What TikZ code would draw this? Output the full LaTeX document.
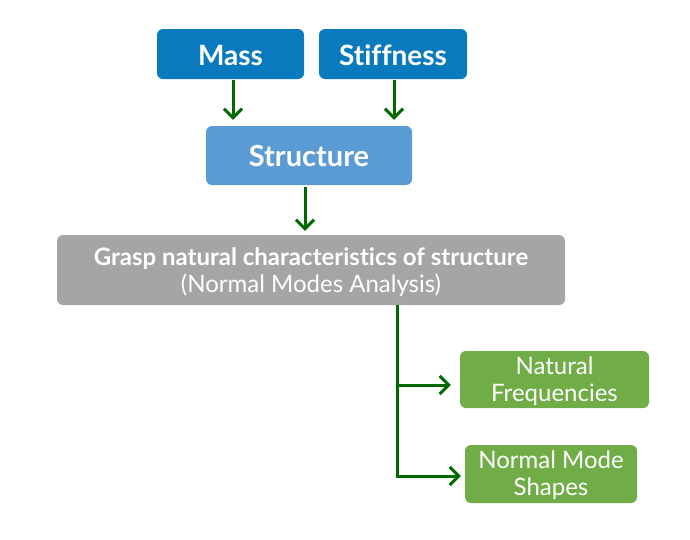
\documentclass[tikz,border=0pt]{standalone}
\usepackage{fontspec}
\setmainfont{Lato}[Ligatures=NoCommon]
\usetikzlibrary{arrows.meta}
\definecolor{topblue}{HTML}{0A7ABF}
\definecolor{midblue}{HTML}{5B9BD5}
\definecolor{boxgray}{HTML}{A5A5A5}
\definecolor{boxgreen}{HTML}{70AD47}
\definecolor{arrgreen}{HTML}{006A00}
\tikzset{
  box/.style={rounded corners=6pt, text=white, align=center, inner sep=0pt},
  arr/.style={draw=arrgreen, line width=3pt, -{Straight Barb[length=9pt,width=18pt,line width=3pt]}},
  ln/.style={draw=arrgreen, line width=3pt}
}
\begin{document}
\begin{tikzpicture}[x=1pt,y=-1pt]
\useasboundingbox (0,0) rectangle (690,539);
\node[box, fill=topblue, minimum width=147pt, minimum height=50pt, text height=22pt, text depth=0pt, font=\fontsize{28}{32}\selectfont\bfseries] (mass) at (230.5,54) {Mass};
\node[box, fill=topblue, minimum width=148pt, minimum height=50pt, text height=22pt, text depth=0pt, font=\fontsize{28}{32}\selectfont\bfseries] (stiff) at (393,54) {Stiffness};
\node[box, fill=midblue, minimum width=206pt, minimum height=59pt, text height=22pt, text depth=0pt, font=\fontsize{29}{33}\selectfont\bfseries] (struct) at (309,155.5) {Structure};
\node[box, fill=boxgray, minimum width=508pt, minimum height=70pt, text height=50pt, text depth=6pt, font=\fontsize{24}{27}\selectfont] (grasp) at (311,270) {\textbf{Grasp natural characteristics of structure}\\(Normal Modes Analysis)};
\node[box, fill=boxgreen, minimum width=189pt, minimum height=57pt, text height=47pt, text depth=3pt, font=\fontsize{24}{27}\selectfont] (nf) at (554.5,379.5) {Natural\\Frequencies};
\node[box, fill=boxgreen, minimum width=172pt, minimum height=58pt, text height=46pt, text depth=4pt, font=\fontsize{24}{27}\selectfont] (nms) at (551,474) {Normal Mode\\Shapes};
\coordinate (ma) at (233,80);
\coordinate (sa) at (394,80);
\coordinate (ca) at (305,187);
\draw[arr, shorten >=6pt] (ma) -- (ma |- struct.north);
\draw[arr, shorten >=6pt] (sa) -- (sa |- struct.north);
\draw[arr, shorten >=4pt] (ca) -- (ca |- grasp.north);
\coordinate (j0) at (397,305);
\coordinate (j1) at (397,385);
\coordinate (j2) at (397,476);
\draw[ln] (j0) -- ([yshift=1.5pt]j2);
\draw[arr, shorten >=9pt] ([xshift=-1.5pt]j1) -- (j1 -| nf.west);
\draw[arr, shorten >=4pt] ([xshift=-1.5pt]j2) -- (j2 -| nms.west);
\end{tikzpicture}
\end{document}
